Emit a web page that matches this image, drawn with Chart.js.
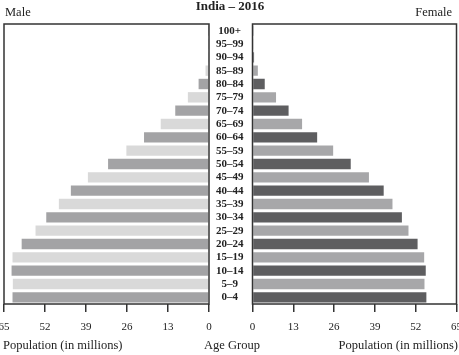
<!DOCTYPE html>
<html><head><meta charset="utf-8">
<script src="https://cdn.jsdelivr.net/npm/chart.js@4/dist/chart.umd.min.js"></script>
<style>
html,body{margin:0;padding:0;background:#fff;}
body{width:459px;height:355px;position:relative;overflow:hidden;font-family:"Liberation Serif",serif;color:#222;}
.t{position:absolute;white-space:nowrap;line-height:1;}
canvas{position:absolute;top:0;}
</style></head><body>
<canvas id="male" width="225" height="355" style="left:-10px"></canvas>
<canvas id="female" width="262" height="355" style="left:209px"></canvas>
<div class="t" style="left:0;width:460px;text-align:center;top:-1px;font-size:13px;font-weight:bold;">India – 2016</div>
<div class="t" style="left:5px;top:6px;font-size:12.5px;">Male</div>
<div class="t" style="right:7px;top:6px;font-size:12.5px;">Female</div>
<div class="t" style="left:3px;top:339px;font-size:12.5px;">Population (in millions)</div>
<div class="t" style="left:182px;width:100px;text-align:center;top:339px;font-size:12.5px;">Age Group</div>
<div class="t" style="right:1px;top:339px;font-size:12.5px;">Population (in millions)</div>
<script>
// Age groups, bottom (youngest) to top (oldest)
const ageGroups = ["0–4","5–9","10–14","15–19","20–24","25–29","30–34","35–39","40–44","45–49","50–54","55–59","60–64","65–69","70–74","75–79","80–84","85–89","90–94","95–99","100+"];
// Population in millions
const maleValues = [62.3,62.2,62.6,62.3,59.4,55.0,51.6,47.6,43.8,38.4,32.0,26.2,20.6,15.3,10.7,6.7,3.3,1.1,0.3,0.1,0.05];
const femaleValues = [55.4,54.8,55.2,54.7,52.6,49.7,47.6,44.6,41.8,37.1,31.3,25.7,20.6,15.8,11.5,7.5,3.9,1.7,0.5,0.2,0.1];
const xTicks = [0,13,26,39,52,65];

const maleColors = ["#a3a3a5","#d9d9d9"];
const femaleColors = ["#5e5e60","#a7a7a9"];
const frameColor = "#333";

const framePlugin = {
  id: 'frame',
  afterDatasetsDraw(chart) {
    const a = chart.chartArea, ctx = chart.ctx;
    ctx.save();
    ctx.strokeStyle = frameColor;
    ctx.lineWidth = 1.5;
    ctx.strokeRect(a.left, a.top, a.right - a.left, a.bottom - a.top);
    ctx.restore();
  }
};

function makeChart(id, values, colors, isMale) {
  const ctx = document.getElementById(id);
  const yAxis = {
    reverse: true,
    display: !isMale,
    border: { display: false },
    grid: { display: false, drawTicks: false },
    ticks: { autoSkip: false, crossAlign: 'center', padding: 9, color: '#222', font: { family: 'Liberation Serif', size: 11, weight: 'bold' } }
  };
  if (!isMale) yAxis.afterFit = (scale) => { scale.width = 43.5; };
  return new Chart(ctx, {
    type: 'bar',
    data: {
      labels: ageGroups,
      datasets: [{
        data: values,
        backgroundColor: values.map((v, i) => colors[i % 2]),
        borderWidth: 0,
        barPercentage: 0.78,
        categoryPercentage: 1.0
      }]
    },
    options: {
      indexAxis: 'y',
      responsive: false,
      animation: false,
      devicePixelRatio: 1,
      layout: { padding: isMale ? {left: 14, right: 6, top: 24, bottom: 0} : {left: 0, right: 13.5, top: 24, bottom: 0} },
      plugins: { legend: {display: false}, tooltip: {enabled: false}, title: {display: false} },
      scales: {
        x: {
          type: 'linear',
          reverse: isMale,
          min: 0, max: 65,
          afterBuildTicks(scale) { scale.ticks = xTicks.map(v => ({value: v})); },
          afterFit(scale) { scale.height = 51; },
          border: { display: false },
          grid: { drawOnChartArea: false, drawTicks: true, tickLength: 8, color: frameColor, lineWidth: 1.5 },
          ticks: { padding: 9, color: '#222', font: { family: 'Liberation Serif', size: 11 }, maxRotation: 0, autoSkip: false }
        },
        y: yAxis
      }
    },
    plugins: [framePlugin]
  });
}

makeChart('male', maleValues, maleColors, true);
makeChart('female', femaleValues, femaleColors, false);
</script>
</body></html>
